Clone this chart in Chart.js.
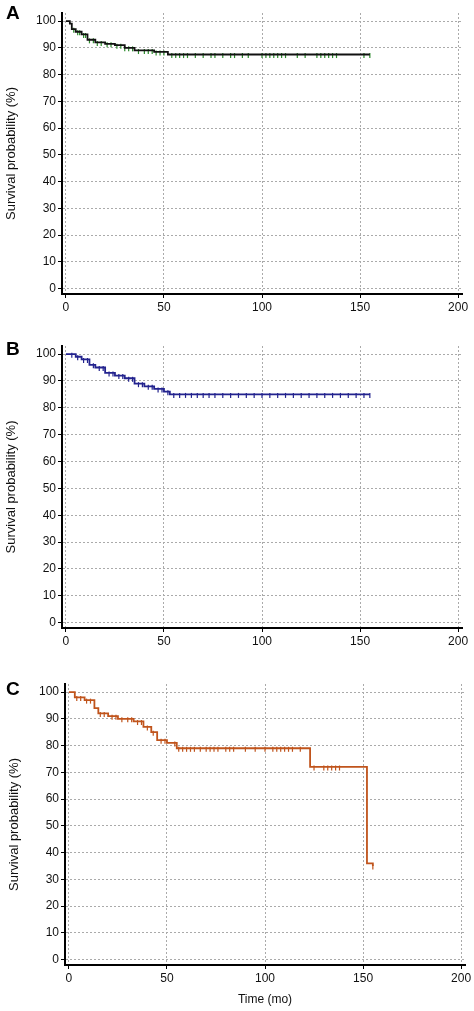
<!DOCTYPE html>
<html><head><meta charset="utf-8">
<script src="https://cdn.jsdelivr.net/npm/chart.js@4"></script>
<style>
body{margin:0;width:474px;height:1011px;position:relative;background:#fff;font-family:Arial,"Liberation Sans",sans-serif;overflow:hidden}
.wrap{position:absolute;left:0;width:474px}
.lbl{position:absolute;left:6px;font-weight:bold;font-size:19px;font-family:"Liberation Sans",Arial,sans-serif}
</style></head><body>
<div class="wrap" style="top:0;height:320px"><canvas id="a"></canvas></div>
<div class="wrap" style="top:330px;height:324px"><canvas id="b"></canvas></div>
<div class="wrap" style="top:660px;left:3px;height:351px"><canvas id="c"></canvas></div>
<div class="lbl" style="top:2px">A</div>
<div class="lbl" style="top:338px">B</div>
<div class="lbl" style="top:678px">C</div>
<script>
const xTicks=[0,50,100,150,200];
const yTicks=[0,10,20,30,40,50,60,70,80,90,100];
const aTime=[0,2,3,5,8,11,15,20,25,30,35,45,52,155];
const aSurv=[100,99,97,96,95,93,92,91.5,91,90,89,88.5,87.5,87.5];
const aCens=[4,6,7,9,10,12,14,16,18,21,23,26,28,30,32,34,37,40,42,44,46,48,50,54,56,58,60,62,66,70,74,76,80,84,86,90,93,100,102,104,106,108,110,112,118,122,128,130,132,134,136,138,152,155];
const bTime=[0,5,8,12,15,20,25,30,35,40,45,50,53,155];
const bSurv=[100,99,98,96,95,93,92,91,89,88,87,86,85,85];
const bCens=[3,6,9,11,14,17,19,22,24,27,29,32,34,37,39,42,44,47,49,52,55,58,61,64,67,70,73,76,80,84,88,92,96,100,104,108,112,116,120,124,128,132,136,140,144,148,152,155];
const cTime=[0,3,8,13,15,20,25,33,38,42,45,50,55,122,123,151,152,155];
const cSurv=[100,98,97,94,92,91,90,89,87,85,82,81,79,79,72,72,36,35];
const cCens=[4,6,9,11,16,18,22,24,27,30,32,35,37,40,43,47,49,54,56,58,60,62,64,67,70,72,74,76,80,82,84,90,95,100,104,106,108,110,112,114,118,125,130,132,134,136,138,155];
function levelAt(t,times,surv){let v=surv[0];for(let i=0;i<times.length;i++){if(times[i]<=t)v=surv[i];}return v;}
function make(id,times,surv,cens,color,censColor,topPad,xH,title){
  const line=times.map((t,i)=>({x:t,y:surv[i]}));
  const cp=cens.map(t=>({x:t,y:levelAt(t,times,surv)-0.4}));
  new Chart(document.getElementById(id),{
    data:{datasets:[
      {type:'line',data:line,stepped:'before',borderColor:color,borderWidth:1.8,pointRadius:0,fill:false},
      {type:'scatter',data:cp,pointStyle:'line',rotation:90,radius:2.5,borderColor:censColor,borderWidth:1.2,pointHoverRadius:2.5}
    ]},
    options:{responsive:true,maintainAspectRatio:false,animation:false,events:[],
      layout:{padding:{top:topPad,right:12,left:0,bottom:0}},
      plugins:{legend:{display:false},tooltip:{enabled:false}},
      scales:{
        x:{type:'linear',min:-2,max:202,afterBuildTicks:s=>{s.ticks=xTicks.map(v=>({value:v}));},afterFit:s=>{s.height=xH;},
          border:{color:'#000',width:2,dash:[2,2]},
          grid:{color:'#aaa',tickColor:'#000',tickLength:4},
          ticks:{color:'#111',font:{size:12},maxRotation:0,padding:2},
          title:{display:!!title,text:title||'',color:'#111',font:{size:12},padding:{top:2}}},
        y:{min:-2,max:103,afterBuildTicks:s=>{const t=[];for(let v=0;v<=100;v+=5)t.push({value:v});s.ticks=t;},afterFit:s=>{s.width=62;},
          border:{color:'#000',width:2,dash:[2,2]},
          grid:{color:c=>(c.tick&&c.tick.value%10===0)?'#aaa':'transparent',tickColor:'#000',tickLength:4},
          ticks:{color:'#111',font:{size:12},padding:2,callback:v=>v%10===0?v:''},
          title:{display:true,text:'Survival probability (%)',color:'#111',font:{size:13},padding:{bottom:2}}}
      }}
  });
}
make('a',aTime,aSurv,aCens,'#111','#2a8a2a',13,26,null);
make('b',bTime,bSurv,bCens,'#23238e','#23238e',16,26,null);
make('c',cTime,cSurv,cCens,'#c0541c','#c0541c',24,46,'Time (mo)');
</script></body></html>
